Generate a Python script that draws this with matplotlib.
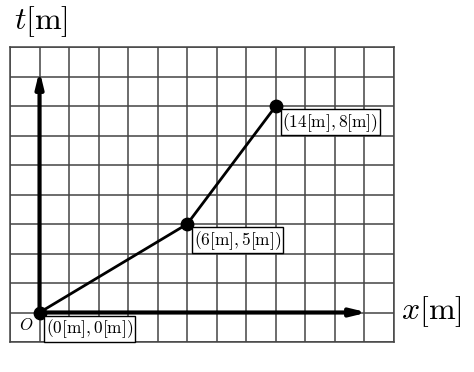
import matplotlib.pyplot as plt
from matplotlib.ticker import MultipleLocator

plt.rcParams['mathtext.fontset'] = 'cm'
plt.rcParams['font.family'] = 'serif'
plt.rcParams['font.serif'] = ['DejaVu Serif']

# path points in grid units, with their printed labels
px = [0, 5, 8]
py = [0, 3, 7]
labels = [r'$(0[\mathrm{m}],0[\mathrm{m}])$',
          r'$(6[\mathrm{m}],5[\mathrm{m}])$',
          r'$(14[\mathrm{m}],8[\mathrm{m}])$']

fig = plt.figure(figsize=(4.74, 3.72), dpi=100)
ax = fig.add_axes([10 / 474, 30 / 372, 384 / 474, 295 / 372])
ax.set_xlim(-1, 12)
ax.set_ylim(-1, 9)
ax.xaxis.set_major_locator(MultipleLocator(1))
ax.yaxis.set_major_locator(MultipleLocator(1))
ax.grid(True, color='#444444', lw=1.1)
ax.tick_params(length=0, labelbottom=False, labelleft=False)
for s in ax.spines.values():
    s.set_color('#444444')
    s.set_linewidth(1.1)

# axes arrows
ax.annotate('', xy=(11.1, 0), xytext=(0, 0),
            arrowprops=dict(arrowstyle='-|>,head_length=0.9,head_width=0.22',
                            color='black', lw=3, shrinkA=0, shrinkB=0))
ax.annotate('', xy=(0, 8.2), xytext=(0, 0),
            arrowprops=dict(arrowstyle='-|>,head_length=0.9,head_width=0.22',
                            color='black', lw=3, shrinkA=0, shrinkB=0))

ax.plot(px, py, color='black', lw=2, zorder=5)
ax.scatter(px, py, s=80, color='black', zorder=6)

for x, y, lab in zip(px, py, labels):
    ax.text(x + 0.22, y - 0.17, lab, fontsize=12.5, ha='left', va='top', zorder=7,
            bbox=dict(boxstyle='square,pad=0.1', fc='white', ec='black', lw=1))

ax.text(-0.45, -0.45, r'$O$', fontsize=12, ha='center', va='center')
fig.text(41 / 474, 1 - 22 / 372, r'$t[\mathrm{m}]$', fontsize=23, ha='center', va='center')
fig.text(431 / 474, 1 - 312 / 372, r'$x[\mathrm{m}]$', fontsize=23, ha='center', va='center')

fig.savefig('out.png', dpi=100)
